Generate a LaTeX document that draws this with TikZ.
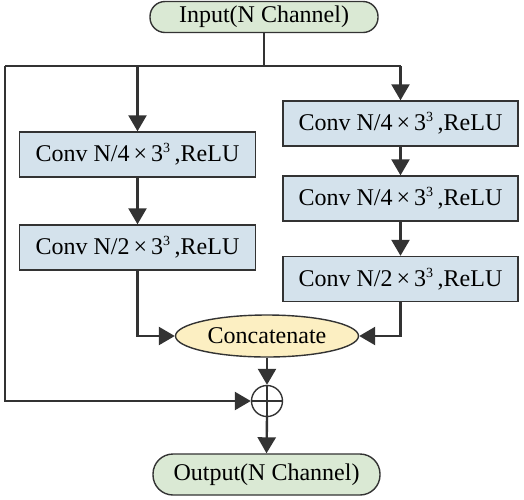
\documentclass[tikz,border=0pt]{standalone}
\usepackage{fontspec}
\setmainfont{Liberation Serif}
\usetikzlibrary{arrows.meta,shapes.geometric}
\definecolor{boxblue}{HTML}{D4E2EC}
\definecolor{boxgreen}{HTML}{DAE9D4}
\definecolor{boxyellow}{HTML}{FCEFC2}
\definecolor{linec}{HTML}{333333}
\begin{document}
\begin{tikzpicture}[x=1pt,y=-1pt,
  every node/.style={font=\fontsize{24}{28}\selectfont, inner sep=0pt},
  convbox/.style={draw=linec, line width=1.4pt, fill=boxblue, minimum width=236pt, minimum height=45pt},
  iobox/.style={draw=linec, line width=1.4pt, fill=boxgreen, rounded corners=15pt, minimum height=31pt},
  catnode/.style={ellipse, draw=linec, line width=1.4pt, fill=boxyellow, minimum width=183pt, minimum height=42pt},
  flow/.style={draw=linec, line width=2.4pt, -{Triangle[length=16pt,width=18pt]}},
  plain/.style={draw=linec, line width=2.4pt}
]
\useasboundingbox (0,0) rectangle (524,499);
\newcommand{\convtxt}[1]{Conv N/#1\,×\,3\textsuperscript{\fontsize{14}{14}\selectfont 3}\,,ReLU}

\node[iobox, minimum width=228pt] (in) at (264,17) {Input(N Channel)};
\node[convbox] (L1) at (137.5,154.5) {\convtxt{4}};
\node[convbox] (L2) at (137.5,247.5) {\convtxt{2}};
\node[convbox, minimum width=235pt] (R1) at (400.5,123.5) {\convtxt{4}};
\node[convbox, minimum width=235pt] (R2) at (400.5,198.5) {\convtxt{4}};
\node[convbox, minimum width=235pt] (R3) at (400.5,279) {\convtxt{2}};
\node[catnode] (cat) at (267,336) {Concatenate};
\node[circle, draw=linec, line width=1.4pt, minimum size=31pt] (plus) at (267,401) {};
\draw[linec, line width=1.2pt] (plus.north) -- (plus.south) (plus.west) -- (plus.east);
\node[iobox, minimum width=227pt, minimum height=41pt, rounded corners=20pt] (out) at (266.5,474.5) {Output(N Channel)};

\coordinate (j) at (264,66);
\coordinate (jl) at (5,66);
\coordinate (jL) at (137.5,66);
\coordinate (jR) at (400.5,66);

\draw[plain] (in.south) -- (j);
\draw[plain] (jl) -- (jR);
\draw[flow] (jL) -- (L1.north);
\draw[flow] (jR) -- (R1.north);
\draw[flow] (jl) |- (plus.west);
\draw[flow] (L1) -- (L2);
\draw[flow] (R1) -- (R2);
\draw[flow] (R2) -- (R3);
\draw[flow] (L2.south) |- (cat.west);
\draw[flow] (R3.south) |- (cat.east);
\draw[flow] (cat.south) -- (plus.north);
\draw[flow] (plus.south) -- (out.north);
\end{tikzpicture}
\end{document}
